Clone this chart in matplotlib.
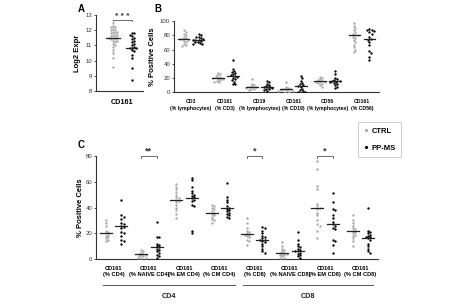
import numpy as np
import matplotlib.pyplot as plt
from matplotlib.lines import Line2D
from matplotlib.transforms import blended_transform_factory

plt.rcParams['font.family'] = ['Liberation Sans', 'DejaVu Sans']

W, H = 474, 306
GRAY = '#a8a8a8'

# panel A: CD161 log2 expression
a_ctrl = [12.5, 12.3, 12.2, 12.2, 12.1, 12.0, 12.0, 11.9, 11.9, 11.8, 11.8, 11.7, 11.7, 11.6, 11.6,
          11.5, 11.5, 11.5, 11.4, 11.4, 11.3, 11.3, 11.2, 11.1, 11.0, 10.9, 10.7, 10.5, 10.2, 9.6]
a_ppms = [11.8, 11.8, 11.7, 11.6, 11.5, 11.4, 11.3, 11.2, 11.1, 11.0, 10.9, 10.85, 10.8, 10.8,
          10.7, 10.6, 10.4, 10.2, 9.5, 8.7]
a_med = [11.5, 10.85]

# panel B: % positive cells
b_labels = ['CD3\n(% lymphocytes)', 'CD161\n(% CD3)', 'CD19\n(% lymphocytes)',
            'CD161\n(% CD19)', 'CD56\n(% lymphocytes)', 'CD161\n(% CD56)']
b_ctrl = [
    [87, 85, 82, 80, 78, 76, 75, 75, 74, 72, 70, 68, 66, 65],
    [27, 26, 24, 22, 21, 20, 20, 19, 18, 17, 16, 15, 14],
    [18, 12, 10, 9, 8, 8, 7, 6, 5, 4, 3],
    [14, 8, 6, 5, 4, 4, 3, 3, 2, 2, 1, 1],
    [22, 20, 18, 17, 16, 15, 15, 14, 13, 12, 10, 8],
    [97, 93, 90, 87, 84, 82, 80, 80, 78, 76, 73, 70, 67, 63, 60, 57],
]
b_ppms = [
    [82, 80, 78, 77, 76, 75, 74, 74, 73, 72, 71, 70, 69, 68, 68],
    [45, 33, 30, 29, 27, 25, 24, 23, 22, 20, 19, 17, 15, 12, 11],
    [16, 14, 12, 10, 9, 8, 7, 7, 6, 5, 4, 3, 2],
    [23, 20, 16, 13, 11, 10, 9, 8, 5, 3, 2, 1, 1],
    [30, 25, 20, 18, 17, 16, 16, 15, 14, 13, 12, 10, 8, 6],
    [89, 88, 87, 86, 84, 82, 78, 75, 74, 70, 66, 58, 55, 50, 45],
]
b_med_ctrl = [75, 20, 8, 4, 16, 80]
b_med_ppms = [74, 23, 7, 9, 16, 75]

# panel C: CD161 in CD4 / CD8 subsets
c_labels = ['CD161\n(% CD4)', 'CD161\n(% NAIVE CD4)', 'CD161\n(% EM CD4)', 'CD161\n(% CM CD4)',
            'CD161\n(% CD8)', 'CD161\n(% NAIVE CD8)', 'CD161\n(% EM CD8)', 'CD161\n(% CM CD8)']
c_ctrl = [
    [30, 28, 26, 22, 21, 20, 19, 18, 17, 16, 15, 14],
    [7, 6, 5, 4, 4, 3, 3, 2, 2, 1, 1, 0.5],
    [58, 56, 54, 52, 50, 48, 47, 46, 45, 44, 42, 40, 38, 35, 32],
    [42, 41, 40, 39, 37, 36, 35, 34, 33, 31, 30, 28],
    [32, 28, 24, 22, 21, 20, 19, 19, 18, 17, 15, 14, 11],
    [13, 10, 8, 7, 6, 5, 5, 4, 4, 3, 3, 2, 1, 1],
    [76, 70, 57, 54, 43, 41, 40, 39, 36, 34, 30, 27, 26, 22, 16],
    [34, 30, 28, 26, 24, 23, 22, 21, 20, 19, 18, 16, 14, 10],
]
c_ppms = [
    [46, 34, 33, 31, 28, 27, 26, 25, 24, 21, 20, 18, 15, 14, 12],
    [29, 17, 17, 12, 11, 10, 9, 8, 7, 6, 5, 3, 2, 1],
    [63, 61, 56, 53, 51, 50, 49, 48, 47, 46, 45, 42, 41, 22, 20],
    [59, 48, 46, 44, 41, 40, 39, 38, 37, 36, 35, 34, 33, 32],
    [25, 24, 22, 20, 18, 17, 16, 15, 15, 14, 13, 12, 10, 8, 6, 5],
    [21, 15, 12, 10, 9, 8, 7, 6, 6, 5, 4, 3, 2, 1],
    [51, 44, 39, 38, 34, 32, 29, 27, 26, 24, 23, 15, 14, 11, 5],
    [40, 22, 21, 20, 19, 18, 17, 17, 16, 15, 12, 10, 8, 6, 5],
]
c_med_ctrl = [20, 3.5, 46, 35.5, 19.5, 4.4, 40, 21.7]
c_med_ppms = [25.5, 9.5, 47, 40, 15, 6.2, 27, 16.6]
c_sig = {1: '**', 4: '*', 6: '*'}


def add_ax(fig, l, t, r, b):
    return fig.add_axes([l / W, 1 - b / H, (r - l) / W, (b - t) / H])


def swarm(vals, ypx, xpx, d=2.2):
    # simple deterministic beeswarm, offsets returned in x data units
    placed, offs = [], []
    cands = [0]
    for j in range(1, 12):
        cands += [j * 0.5, -j * 0.5]
    for v in vals:
        y = v * ypx
        x = 0
        for c in cands:
            x = c * d
            if all((x - px) ** 2 + (y - py) ** 2 >= d ** 2 for px, py in placed):
                break
        placed.append((x, y))
        offs.append(x / xpx)
    return np.array(offs)


def dots(ax, x0, vals, ypx, xpx, color, med, half):
    off = swarm(vals, ypx, xpx)
    ax.plot(x0 + off, vals, 'o', ms=1.7, mew=0, color=color, zorder=3)
    ax.plot([x0 - half, x0 + half], [med, med], color='#222222', lw=0.9, zorder=4)


def style(ax, ylim, yticks, xfs=4.0):
    ax.set_ylim(*ylim)
    ax.set_yticks(yticks)
    for s in ['top', 'right']:
        ax.spines[s].set_visible(False)
    for s in ['left', 'bottom']:
        ax.spines[s].set_linewidth(0.8)
        ax.spines[s].set_color('#333333')
    ax.tick_params(axis='y', labelsize=4.3, length=1.8, width=0.6, pad=1, colors='#333333')
    ax.tick_params(axis='x', length=0, labelsize=xfs, pad=5)
    for t in ax.get_xticklabels():
        t.set_fontweight('bold')
        t.set_linespacing(1.35)


def bracket(ax, x1, x2, y, cap, txt, fs=6.5):
    ax.plot([x1, x1, x2, x2], [y - cap, y, y, y - cap], color='#555555', lw=0.6, clip_on=False)
    ax.text((x1 + x2) / 2, y, txt, ha='center', va='bottom', fontsize=fs, fontweight='bold',
            color='#333333')


fig = plt.figure(figsize=(W / 100, H / 100), dpi=100)

# ---- A
axA = add_ax(fig, 96, 15, 143, 91)
axA.set_xlim(-0.5, 0.5)
dots(axA, -0.14, a_ctrl, 15.2, 47, GRAY, a_med[0], 0.14)
dots(axA, 0.26, a_ppms, 15.2, 47, 'black', a_med[1], 0.12)
axA.set_xticks([0.06])
axA.set_xticklabels(['CD161'])
style(axA, (8, 13), range(8, 14), xfs=5.2)
axA.tick_params(axis='x', pad=6)
axA.set_ylabel('Log2 Expr', fontsize=5.5, fontweight='bold', labelpad=3)
bracket(axA, -0.14, 0.26, 12.7, 0.1, '* * *', fs=6)

# ---- B
axB = add_ax(fig, 174, 21, 379, 92.3)
axB.set_xlim(-0.5, 5.5)
for i in range(len(b_labels)):
    dots(axB, i - 0.22, b_ctrl[i], 0.713, 34.2, GRAY, b_med_ctrl[i], 0.17)
    dots(axB, i + 0.22, b_ppms[i], 0.713, 34.2, 'black', b_med_ppms[i], 0.17)
axB.set_xticks(range(len(b_labels)))
axB.set_xticklabels(b_labels)
style(axB, (0, 100), range(0, 101, 20), xfs=3.7)
axB.set_ylabel('% Positive Cells', fontsize=5.5, fontweight='bold', labelpad=3)

# ---- C
axC = add_ax(fig, 96, 156, 378, 259)
axC.set_xlim(-0.5, 7.5)
for i in range(len(c_labels)):
    dots(axC, i - 0.22, c_ctrl[i], 1.2875, 35.25, GRAY, c_med_ctrl[i], 0.17)
    dots(axC, i + 0.22, c_ppms[i], 1.2875, 35.25, 'black', c_med_ppms[i], 0.17)
axC.set_xticks(range(len(c_labels)))
axC.set_xticklabels(c_labels)
style(axC, (0, 80), range(0, 81, 20), xfs=4.1)
axC.set_ylabel('% Positive Cells', fontsize=5.5, fontweight='bold', labelpad=1)
for i, s in c_sig.items():
    bracket(axC, i - 0.22, i + 0.22, 80, 1.2, s)

tr = blended_transform_factory(axC.transData, axC.transAxes)
for (x1, x2), name in [((-0.3, 3.44), 'CD4'), ((3.67, 7.36), 'CD8')]:
    axC.plot([x1, x2], [-0.255, -0.255], color='#555555', lw=0.7, transform=tr, clip_on=False)
    axC.text((x1 + x2) / 2, -0.33, name, transform=tr, ha='center', va='top', fontsize=5.2,
             fontweight='bold', color='#222222')

# panel letters
for x, y, s in [(81, 9, 'A'), (158, 9, 'B'), (81, 145, 'C')]:
    fig.text(x / W, 1 - y / H, s, fontsize=7, fontweight='bold', ha='center', va='center')

# legend
handles = [Line2D([], [], ls='', marker='o', ms=2.3, mew=0, color=GRAY),
           Line2D([], [], ls='', marker='o', ms=2.3, mew=0, color='black')]
leg = fig.legend(handles, ['CTRL', 'PP-MS'], loc='upper left', bbox_to_anchor=(358 / W, 1 - 122 / H),
                 prop={'size': 5.5, 'weight': 'bold'}, frameon=True, fancybox=False,
                 handlelength=0.6, handletextpad=0.5, labelspacing=1.3, borderpad=0.7,
                 borderaxespad=0)
leg.get_frame().set_edgecolor('#bbbbbb')
leg.get_frame().set_linewidth(0.6)

fig.savefig('out.png', dpi=100)
